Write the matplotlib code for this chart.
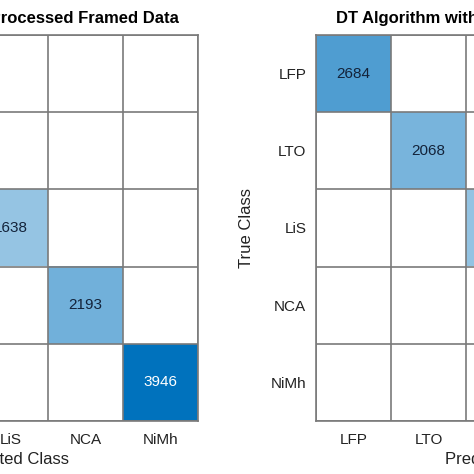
import numpy as np
import matplotlib
matplotlib.use("Agg")
import matplotlib.pyplot as plt
from matplotlib.colors import LinearSegmentedColormap

plt.rcParams['font.family'] = ['Liberation Sans', 'DejaVu Sans']

classes = ["LFP", "LTO", "LiS", "NCA", "NiMh"]

# diagonal counts (off-diagonal cells are all zero)
left_diag = [2684, 2068, 1638, 2193, 3946]
right_diag = [2684, 2068, 1650, 2190, 3900]

left_title = "DT Algorithm with Processed Framed Data"
right_title = "DT Algorithm with Processed Framed Data"

cmap = LinearSegmentedColormap.from_list("cm", ["#ffffff", "#0072bd"])
GRID = "#7a7a7a"


def draw_matrix(ax, diag, title):
    mat = np.diag(diag).astype(float)
    n = len(classes)
    vmax = mat.max()
    ax.imshow(mat, cmap=cmap, vmin=0, vmax=vmax, aspect='auto',
              interpolation='nearest', extent=(-0.5, n - 0.5, n - 0.5, -0.5))
    for i in range(n):
        for j in range(n):
            v = mat[i, j]
            if v > 0:
                col = 'white' if v / vmax > 0.8 else '#13233a'
                ax.text(j, i, f"{int(v)}", ha='center', va='center',
                        fontsize=11, color=col)
    ax.set_xticks(range(n))
    ax.set_yticks(range(n))
    ax.set_xticklabels(classes, fontsize=11, color='#222222')
    ax.set_yticklabels(classes, fontsize=11, color='#222222')
    ax.set_xticks(np.arange(-0.5, n), minor=True)
    ax.set_yticks(np.arange(-0.5, n), minor=True)
    ax.grid(which='minor', color=GRID, linewidth=1.2)
    ax.tick_params(which='both', length=0)
    ax.tick_params(axis='x', pad=9)
    ax.tick_params(axis='y', pad=7)
    for s in ax.spines.values():
        s.set_color(GRID)
        s.set_linewidth(1.2)
    ax.set_xlabel("Predicted Class", fontsize=12, color='#222222', labelpad=3)
    ax.set_ylabel("True Class", fontsize=12, color='#222222', labelpad=12)
    ax.set_title(title, fontsize=12, fontweight='bold', pad=9)


fig = plt.figure(figsize=(4.74, 4.74), dpi=100)
H = 474.0
bottom = (H - 421) / H
height = 386 / H
ax1 = fig.add_axes([-177 / H, bottom, 375 / H, height])
ax2 = fig.add_axes([316 / H, bottom, 375 / H, height])

draw_matrix(ax1, left_diag, left_title)
draw_matrix(ax2, right_diag, right_title)

fig.savefig("out.png", dpi=100)
